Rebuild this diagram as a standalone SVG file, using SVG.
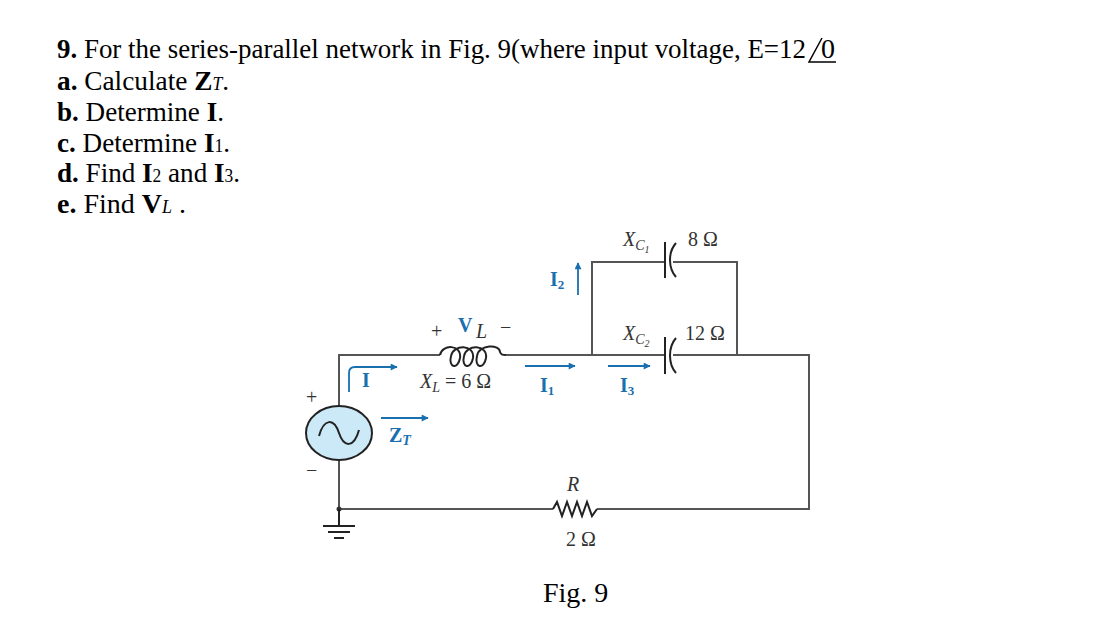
<svg xmlns="http://www.w3.org/2000/svg" width="1095" height="625" viewBox="0 0 1095 625">
<style>
.q{font-family:"Liberation Serif",serif;font-size:28px;fill:#000}
.b{font-weight:bold}
.s{font-size:18px}
.w{stroke:#555;stroke-width:2;fill:none}
.blk{stroke:#222;stroke-width:2;fill:none}
.cl{font-family:"Liberation Serif",serif;font-size:20px;fill:#333}
.bl{font-family:"Liberation Serif",serif;font-size:20px;fill:#1a6faf;font-weight:bold}
.ar{stroke:#1a6faf;stroke-width:1.8;fill:none;marker-end:url(#ah)}
</style>
<defs>
<marker id="ah" viewBox="0 0 10 10" refX="9" refY="5" markerWidth="10" markerHeight="7" markerUnits="userSpaceOnUse" orient="auto"><path d="M0,0 L10,5 L0,10 z" fill="#1a6faf"/></marker>
</defs>
<rect width="1095" height="625" fill="#fff"/>
<g id="question">
<text class="q" x="57" y="58" textLength="749" lengthAdjust="spacingAndGlyphs"><tspan class="b">9.</tspan> For the series-parallel network in Fig. 9(where input voltage, E=12</text>
<path d="M822,38 L809,62 L836,62" stroke="#000" stroke-width="1.5" fill="none"/>
<text class="q" x="821" y="58" textLength="14" lengthAdjust="spacingAndGlyphs">0</text>
<text class="q" x="57" y="90" textLength="172" lengthAdjust="spacingAndGlyphs"><tspan class="b">a.</tspan> Calculate <tspan class="b">Z</tspan><tspan class="s" font-style="italic">T</tspan>.</text>
<text class="q" x="57" y="121" textLength="167" lengthAdjust="spacingAndGlyphs"><tspan class="b">b.</tspan> Determine <tspan class="b">I</tspan>.</text>
<text class="q" x="57" y="152" textLength="173" lengthAdjust="spacingAndGlyphs"><tspan class="b">c.</tspan> Determine <tspan class="b">I</tspan><tspan class="s">1</tspan>.</text>
<text class="q" x="57" y="182" textLength="183" lengthAdjust="spacingAndGlyphs"><tspan class="b">d.</tspan> Find <tspan class="b">I</tspan><tspan class="s">2</tspan> and <tspan class="b">I</tspan><tspan class="s">3</tspan>.</text>
<text class="q" x="57" y="213" textLength="129" lengthAdjust="spacingAndGlyphs"><tspan class="b">e.</tspan> Find <tspan class="b">V</tspan><tspan class="s" font-style="italic">L</tspan> .</text>
</g>
<g id="connectors">
<path class="w" d="M339,406 L339,355 L440,355 M506,355 L665,355 M673,355 L809,355 L809,509 L597,509 M553,509 L339,509 L339,460"/>
<path class="w" d="M592,355 L592,262 L665,262 M673,262 L737,262 L737,355"/>
</g>
<g id="source">
<ellipse cx="339" cy="433" rx="33" ry="27" fill="#cce9f8" stroke="#222" stroke-width="2"/>
<path d="M319,436 C324,418 334,418 339,433 C344,448 354,448 359,430" class="blk"/>
<text class="cl" x="306" y="404" font-size="22">+</text>
<text class="cl" x="306" y="477" font-size="22">−</text>
</g>
<g id="ground">
<circle cx="339" cy="509" r="2.5" fill="#333"/>
<path class="blk" d="M339,509 L339,526 M323,526 L355,526 M328,532 L350,532 M334,538 L344,538" stroke-width="3"/>
</g>
<g id="inductor">
<path class="blk" d="M440,355 C442,344 462,344 460,358 C458,370 448,368 451,356 C453,344 475,344 473,358 C471,370 461,368 464,356 C466,344 488,344 486,358 C484,370 474,368 477,356 C479,344 500,344 500,352 C501,355 503,355 506,355"/>
<text class="cl" x="431" y="338" font-size="22">+</text>
<text class="bl" x="458" y="332" fill="#2a6ea6">V</text>
<text class="cl" x="476" y="338" font-style="italic" font-size="15">L</text>
<text class="cl" x="500" y="334" font-size="22">−</text>
<text class="cl" x="420" y="388" font-style="italic">X<tspan font-size="14" dy="4">L</tspan><tspan dy="-4" font-style="normal"> = 6 Ω</tspan></text>
</g>
<g id="C1">
<path class="blk" d="M665,242 L665,278 M676,243 C668,252 668,268 676,277" stroke-width="2.5"/>
<text class="cl" x="623" y="246" font-style="italic">X<tspan font-size="14" dy="4">C</tspan><tspan font-size="10" dy="3">1</tspan></text>
<text class="cl" x="688" y="246">8 Ω</text>
</g>
<g id="C2">
<path class="blk" d="M665,337 L665,374 M676,338 C668,347 668,364 676,373" stroke-width="2.5"/>
<text class="cl" x="623" y="340" font-style="italic">X<tspan font-size="14" dy="4">C</tspan><tspan font-size="10" dy="3">2</tspan></text>
<text class="cl" x="685" y="340">12 Ω</text>
</g>
<g id="resistor">
<path class="blk" d="M553,509 L557,502 L562,516 L567,502 L572,516 L577,502 L582,516 L587,502 L592,516 L597,509"/>
<text class="cl" x="567" y="491" font-style="italic">R</text>
<text class="cl" x="566" y="546">2 Ω</text>
</g>
<g id="currents">
<path class="ar" d="M349,392 L349,373 Q349,367 355,367 L397,367"/>
<text class="bl" x="362" y="387">I</text>
<path class="ar" d="M525,366 L575,366"/>
<text class="bl" x="540" y="392">I<tspan font-size="13" dy="3">1</tspan></text>
<path class="ar" d="M608,366 L650,366"/>
<text class="bl" x="620" y="392">I<tspan font-size="13" dy="3">3</tspan></text>
<path class="ar" d="M578,295 L578,263"/>
<text class="bl" x="550" y="286">I<tspan font-size="13" dy="3">2</tspan></text>
<path class="ar" d="M381,418 L428,418"/>
<text class="bl" x="389" y="442">Z<tspan font-size="14" dy="3" font-style="italic">T</tspan></text>
</g>
<text class="q" x="543" y="602" font-size="24">Fig. 9</text>
</svg>
